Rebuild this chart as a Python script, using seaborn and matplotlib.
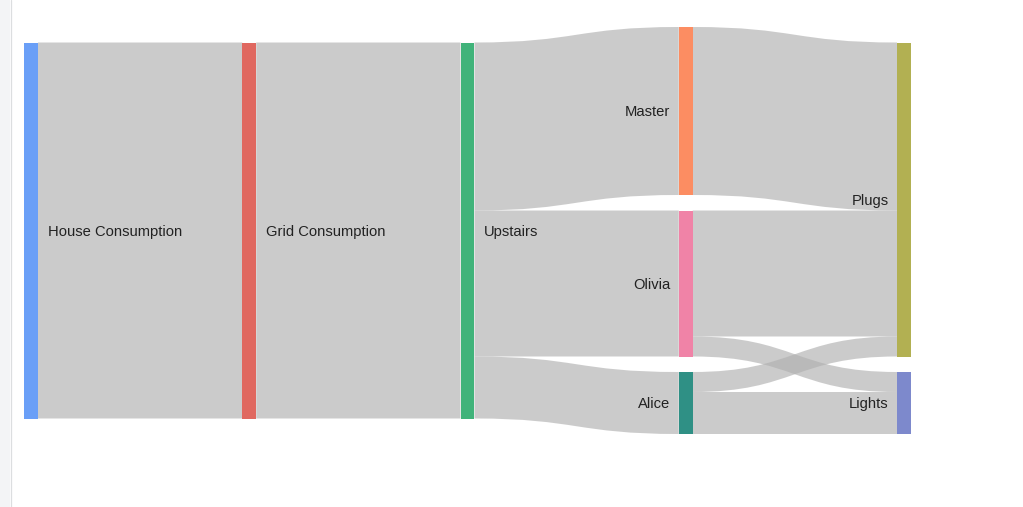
import matplotlib
matplotlib.use("Agg")
import matplotlib.pyplot as plt
from matplotlib.patches import PathPatch, Rectangle
from matplotlib.path import Path
from matplotlib.lines import Line2D
import seaborn as sns

# nodes, their column and colour
nodes = ["House Consumption", "Grid Consumption", "Upstairs",
         "Master", "Olivia", "Alice", "Plugs", "Lights"]
node_cols = [0, 1, 2, 3, 3, 3, 4, 4]
node_colors = ["#6a9ff7", "#e06860", "#40b37a", "#fc8d62",
               "#f083a7", "#2f9085", "#b2b052", "#7d89cc"]

# links (source -> target, value)
link_src = ["House Consumption", "Grid Consumption", "Upstairs", "Upstairs", "Upstairs",
            "Master", "Olivia", "Olivia", "Alice", "Alice"]
link_tgt = ["Grid Consumption", "Upstairs", "Master", "Olivia", "Alice",
            "Plugs", "Plugs", "Lights", "Plugs", "Lights"]
link_val = [37.6, 37.6, 16.8, 14.6, 6.2, 16.8, 12.6, 2.0, 2.0, 4.2]

PAD = 1.55          # gap between nodes in a column (value units)
NODE_W = 0.064      # node width (column units)
LINK_COLOR = "#b0b0b0"
LINK_ALPHA = 0.65

sns.set_theme(style="white")
plt.rcParams["font.family"] = ["Liberation Sans", "DejaVu Sans"]


def layout():
    n_cols = max(node_cols) + 1
    value = {}
    for n in nodes:
        v_in = sum(v for t, v in zip(link_tgt, link_val) if t == n)
        v_out = sum(v for s, v in zip(link_src, link_val) if s == n)
        value[n] = max(v_in, v_out)
    col = dict(zip(nodes, node_cols))
    col_nodes = {c: [n for n in nodes if col[n] == c] for c in range(n_cols)}
    col_h = {c: sum(value[n] for n in ns) + PAD * (len(ns) - 1) for c, ns in col_nodes.items()}
    extent = max(col_h.values())
    y0 = {}
    for c, ns in col_nodes.items():
        # sinks sit on the bottom, everything else is centred
        start = extent - col_h[c] if c == n_cols - 1 else (extent - col_h[c]) / 2
        for n in ns:
            y0[n] = start
            start += value[n] + PAD
    return col, value, y0


def link_positions(y0):
    idx = range(len(link_val))
    src_off = dict(y0)
    tgt_off = dict(y0)
    ys, yt = {}, {}
    for i in sorted(idx, key=lambda i: y0[link_tgt[i]]):
        ys[i] = src_off[link_src[i]]
        src_off[link_src[i]] += link_val[i]
    for i in sorted(idx, key=lambda i: y0[link_src[i]]):
        yt[i] = tgt_off[link_tgt[i]]
        tgt_off[link_tgt[i]] += link_val[i]
    return ys, yt


def draw_link(ax, xs, xt, ys, yt, w):
    xm = (xs + xt) / 2
    verts = [(xs, ys), (xm, ys), (xm, yt), (xt, yt),
             (xt, yt + w), (xm, yt + w), (xm, ys + w), (xs, ys + w), (xs, ys)]
    codes = [Path.MOVETO, Path.CURVE4, Path.CURVE4, Path.CURVE4,
             Path.LINETO, Path.CURVE4, Path.CURVE4, Path.CURVE4, Path.CLOSEPOLY]
    ax.add_patch(PathPatch(Path(verts, codes), facecolor=LINK_COLOR,
                           alpha=LINK_ALPHA, lw=0, zorder=1))


fig = plt.figure(figsize=(10.23, 5.07), dpi=100)
ax = fig.add_axes([0, 0, 1, 1])

col, value, y0 = layout()
ys, yt = link_positions(y0)

for i in range(len(link_val)):
    draw_link(ax, col[link_src[i]] + NODE_W, col[link_tgt[i]], ys[i], yt[i], link_val[i])

ax.bar([col[n] for n in nodes], [value[n] for n in nodes],
       bottom=[y0[n] for n in nodes], width=NODE_W, align="edge",
       color=node_colors, lw=0, zorder=2)

# pixel mapping: x_px = 24 + 218.25 * col, y_px = 27 + 10 * value
xlim = (-24 / 218.25, (1023 - 24) / 218.25)
ax.set_xlim(*xlim)
ax.set_ylim((507 - 27) / 10, -27 / 10)
ax.axis("off")

# labels right of nodes in the left half, left of nodes in the right half
half = sum(xlim) / 2
for n in nodes:
    yc = y0[n] + value[n] / 2
    if col[n] < half:
        ax.annotate(n, (col[n] + NODE_W, yc), xytext=(7.0, -3.7), textcoords="offset points",
                    ha="left", va="baseline", fontsize=10.6, color="#222222", zorder=3)
    else:
        ax.annotate(n, (col[n], yc), xytext=(-6.0, -3.7), textcoords="offset points",
                    ha="right", va="baseline", fontsize=10.6, color="#222222", zorder=3)

# page side strip on the left
fig.add_artist(Rectangle((0, 0), 10 / 1023, 1, transform=fig.transFigure,
                         color="#f3f4f6", lw=0))
fig.add_artist(Line2D([10.5 / 1023, 10.5 / 1023], [0, 1], transform=fig.transFigure,
                      color="#dcdee0", lw=0.9))

fig.savefig("out.png", dpi=100, facecolor="white")
